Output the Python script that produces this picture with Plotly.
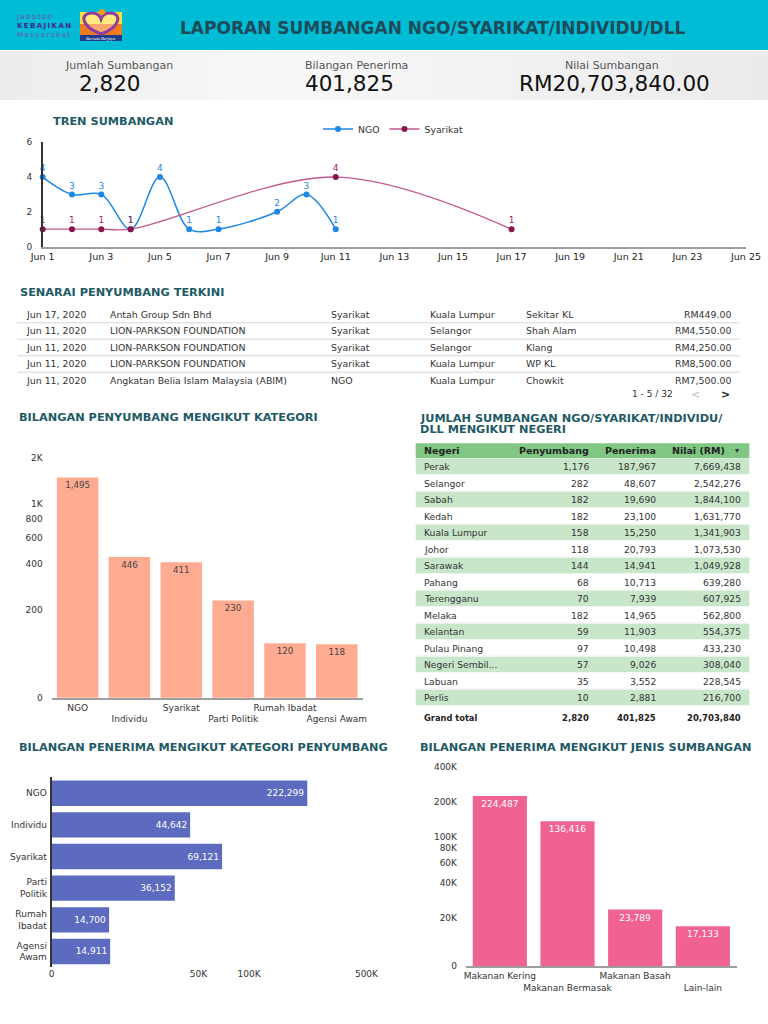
import math
import plotly.graph_objects as go

W, H = 768, 1024
def X(px): return px / W
def Y(py): return 1 - py / H

FONT = "DejaVu Sans"
TITLE_C = "#1e5a66"
TXT = "#333333"

# ---------------- data ----------------
report_title = "LAPORAN SUMBANGAN NGO/SYARIKAT/INDIVIDU/DLL"
score_labels = ["Jumlah Sumbangan", "Bilangan Penerima", "Nilai Sumbangan"]

trend_ngo_dates = ["2020-06-01", "2020-06-02", "2020-06-03", "2020-06-04", "2020-06-05",
                   "2020-06-06", "2020-06-07", "2020-06-09", "2020-06-10", "2020-06-11"]
trend_ngo_values = [4, 3, 3, 1, 4, 1, 1, 2, 3, 1]
trend_syarikat_dates = ["2020-06-01", "2020-06-02", "2020-06-03", "2020-06-04", "2020-06-11", "2020-06-17"]
trend_syarikat_values = [1, 1, 1, 1, 4, 1]

recent_dates = ["Jun 17, 2020", "Jun 11, 2020", "Jun 11, 2020", "Jun 11, 2020", "Jun 11, 2020"]
recent_names = ["Antah Group Sdn Bhd", "LION-PARKSON FOUNDATION", "LION-PARKSON FOUNDATION",
                "LION-PARKSON FOUNDATION", "Angkatan Belia Islam Malaysia (ABIM)"]
recent_categories = ["Syarikat", "Syarikat", "Syarikat", "Syarikat", "NGO"]
recent_states = ["Kuala Lumpur", "Selangor", "Selangor", "Kuala Lumpur", "Kuala Lumpur"]
recent_areas = ["Sekitar KL", "Shah Alam", "Klang", "WP KL", "Chowkit"]
recent_amounts = [449.00, 4550.00, 4250.00, 8500.00, 7500.00]
recent_page = "1 - 5 / 32"

categories = ["NGO", "Individu", "Syarikat", "Parti Politik", "Rumah Ibadat", "Agensi Awam"]
donors_by_category = [1495, 446, 411, 230, 120, 118]
recipients_by_category = [222299, 44642, 69121, 36152, 14700, 14911]

donation_types = ["Makanan Kering", "Makanan Bermasak", "Makanan Basah", "Lain-lain"]
recipients_by_type = [224487, 136416, 23789, 17133]

states = ["Perak", "Selangor", "Sabah", "Kedah", "Kuala Lumpur", "Johor", "Sarawak", "Pahang",
          "Terengganu", "Melaka", "Kelantan", "Pulau Pinang", "Negeri Sembil...", "Labuan", "Perlis"]
state_donors = [1176, 282, 182, 182, 158, 118, 144, 68, 70, 182, 59, 97, 57, 35, 10]
state_recipients = [187967, 48607, 19690, 23100, 15250, 20793, 14941, 10713, 7939, 14965,
                    11903, 10498, 9026, 3552, 2881]
state_value = [7669438, 2542276, 1844100, 1631770, 1341903, 1073530, 1049928, 639280, 607925,
               562800, 554375, 433230, 308040, 228545, 216700]
table_headers = ["Negeri", "Penyumbang", "Penerima", "Nilai (RM)"]

donor_ticks = [200, 400, 600, 800, 1000, 2000]
donor_tick_text = ["200", "400", "600", "800", "1K", "2K"]
recip_cat_ticks = [50000, 100000, 500000]
recip_cat_tick_text = ["50K", "100K", "500K"]
recip_type_ticks = [20000, 40000, 60000, 80000, 100000, 200000, 400000]
recip_type_tick_text = ["20K", "40K", "60K", "80K", "100K", "200K", "400K"]

logo_lines = ["Jabatan", "KEBAJIKAN", "Masyarakat"]

total_donors = sum(state_donors)
total_recipients = sum(state_recipients)
total_value = sum(state_value)

# ---------------- helpers ----------------
shapes, annots = [], []

def rect(x0, y0, x1, y1, fill, line=None, layer="below"):
    shapes.append(dict(type="rect", xref="paper", yref="paper", x0=X(x0), x1=X(x1), y0=Y(y1), y1=Y(y0),
                       fillcolor=fill, line=dict(width=0) if line is None else line, layer=layer))

def hline(x0, x1, y, color, width=1):
    shapes.append(dict(type="line", xref="paper", yref="paper", x0=X(x0), x1=X(x1), y0=Y(y), y1=Y(y),
                       line=dict(color=color, width=width)))

def txt(x, y, s, size=9, color=TXT, anchor="left", family=FONT, align=None):
    a = dict(x=X(x), y=Y(y), xref="paper", yref="paper", text=s, showarrow=False,
             xanchor=anchor, yanchor="middle", font=dict(family=family, size=size, color=color))
    if align:
        a["align"] = align
    annots.append(a)

def path(cmds):
    out = []
    for c in cmds:
        if isinstance(c, str):
            out.append(c)
        else:
            out.append(f"{X(c[0]):.5f},{Y(c[1]):.5f}")
    return " ".join(out)

def title(x, y, s):
    txt(x, y, f"<b>{s}</b>", size=11.3, color=TITLE_C)

def stagger(labels):
    return [l if i % 2 == 0 else "<br>" + l for i, l in enumerate(labels)]

def spaced(s):
    return "\u2009".join(s)

# ---------------- header ----------------
rect(0, 0, 768, 50, "#00bcd4")
# scorecard band: soft grey gradient made of thin strips
n_strips = 48
for k in range(n_strips):
    x0 = 768 * k / n_strips
    x1 = 768 * (k + 1) / n_strips + 0.6
    xc = (x0 + x1) / 2
    if xc < 260:
        g = 236 + (248 - 236) * xc / 260
    else:
        g = 248 - (248 - 235) * (xc - 260) / (768 - 260)
    g = int(round(g))
    rect(x0, 51, x1, 100, f"rgb({g},{g},{g})")
# logo
txt(14, 25.5, "<span style='color:#7d4fb0'>" + spaced(logo_lines[0]) + "</span><br>"
    "<b><span style='color:#4b2490'>" + spaced(logo_lines[1]) + "</span></b><br>"
    "<span style='color:#7d4fb0'>" + spaced(logo_lines[2]) + "</span>",
    size=7, color="#7d4fb0", align="left")
rect(80, 12, 122, 24, "#f9e03a", layer="above")
rect(80, 24, 122, 35, "#f07a22", layer="above")
rect(80, 35, 122, 41, "#1f3c8c", layer="above")
shapes.append(dict(type="path", xref="paper", yref="paper", layer="above",
                   path=path(["M", (101, 34), "C", (80, 26), (80, 13), (92, 13), "C", (97, 13), (100, 16), (101, 19),
                              "C", (102, 16), (105, 13), (110, 13), "C", (122, 13), (121, 27), (101, 34), "Z"]),
                   fillcolor="rgba(255,255,255,0.35)", line=dict(color="#8e3d9e", width=3)))
shapes.append(dict(type="circle", xref="paper", yref="paper", layer="above",
                   x0=X(99), x1=X(105), y0=Y(15), y1=Y(9), fillcolor="#f39c12", line=dict(width=0)))
txt(101, 38, "<i>Bersatu Berjaya</i>", size=4.5, color="white", anchor="center", family="Liberation Serif")

txt(433, 28, f"<b>{report_title}</b>", size=17, color="#1d4b5a", anchor="center")

# scorecards
txt(118.9, 65, score_labels[0], size=11, color="#555555", anchor="center")
txt(109.5, 83, f"{total_donors:,}", size=21.5, color="#111111", anchor="center")
txt(302.5, 65, score_labels[1], size=11, color="#555555", anchor="left")
txt(302.5, 83, f"{total_recipients:,}", size=21.5, color="#111111", anchor="left")
txt(612.3, 65, score_labels[2], size=11, color="#555555", anchor="center")
txt(614.7, 83, f"RM{total_value:,.2f}", size=21.5, color="#111111", anchor="center")

# ---------------- trend line chart ----------------
title(50.7, 121.7, "TREN SUMBANGAN")
NGO_C = "#1e88e5"
SYA_LINE = "#c2588c"
SYA_MARK = "#8b1450"
fig = go.Figure()
fig.add_trace(go.Scatter(x=trend_ngo_dates, y=trend_ngo_values, mode="lines+markers", name="NGO",
                         line=dict(color=NGO_C, width=1.5, shape="spline", smoothing=1.0),
                         marker=dict(size=6, color=NGO_C), xaxis="x", yaxis="y", cliponaxis=False))
fig.add_trace(go.Scatter(x=trend_syarikat_dates, y=trend_syarikat_values, mode="lines+markers", name="Syarikat",
                         line=dict(color=SYA_LINE, width=1.3, shape="spline", smoothing=1.0),
                         marker=dict(size=6, color=SYA_MARK), xaxis="x", yaxis="y", cliponaxis=False))
fig.add_trace(go.Scatter(x=trend_ngo_dates, y=trend_ngo_values, mode="markers+text",
                         text=[str(v) for v in trend_ngo_values], textposition="top center",
                         textfont=dict(size=9, color=NGO_C), marker=dict(size=4, color="rgba(0,0,0,0)"),
                         showlegend=False, xaxis="x", yaxis="y", cliponaxis=False, hoverinfo="skip"))
fig.add_trace(go.Scatter(x=trend_syarikat_dates, y=trend_syarikat_values, mode="markers+text",
                         text=[str(v) for v in trend_syarikat_values], textposition="top center",
                         textfont=dict(size=9, color="#9b1f5c"), marker=dict(size=4, color="rgba(0,0,0,0)"),
                         showlegend=False, xaxis="x", yaxis="y", cliponaxis=False, hoverinfo="skip"))

# ---------------- recent donors table ----------------
title(18, 292.3, "SENARAI PENYUMBANG TERKINI")
TS = 9.4
for i in range(len(recent_dates)):
    yy = 314.3 + 16.5 * i
    txt(23.5, yy, recent_dates[i], size=TS)
    txt(107.8, yy, recent_names[i], size=TS)
    txt(329.4, yy, recent_categories[i], size=TS)
    txt(427.5, yy, recent_states[i], size=TS)
    txt(523.5, yy, recent_areas[i], size=TS)
    txt(732.8, yy, f"RM{recent_amounts[i]:,.2f}", size=TS, anchor="right")
    if i < len(recent_dates) - 1:
        hline(17, 740, yy + 8.5, "#e3e3e3", 1.5)
txt(652, 394, recent_page, size=9, anchor="center")
txt(695, 394, "<", size=11, color="#bbbbbb", anchor="center")
txt(725.5, 394, "<b>></b>", size=11, color="#222222", anchor="center")

# ---------------- bar: donors by category ----------------
title(17.3, 417.7, "BILANGAN PENYUMBANG MENGIKUT KATEGORI")
fig.add_trace(go.Bar(x=categories, y=donors_by_category, marker=dict(color="#ffab91", line=dict(width=0)),
                     text=[f"{v:,}" for v in donors_by_category], textposition="inside",
                     insidetextanchor="end", textangle=0, textfont=dict(size=8.7, color="#444444"),
                     xaxis="x2", yaxis="y2", showlegend=False))

# ---------------- state table ----------------
title(418.3, 418.3, "JUMLAH SUMBANGAN NGO/SYARIKAT/INDIVIDU/")
title(418.3, 429, "DLL MENGIKUT NEGERI")
rect(415.7, 443.3, 749.3, 458.3, "#81c784")
hdr_y = 450.8
txt(422, hdr_y, f"<b>{table_headers[0]}</b>", size=9.5, color="#222222")
txt(591, hdr_y, f"<b>{table_headers[1]}</b>", size=9.5, color="#222222", anchor="right")
txt(657.7, hdr_y, f"<b>{table_headers[2]}</b>", size=9.5, color="#222222", anchor="right")
txt(726.7, hdr_y, f"<b>{table_headers[3]}</b>", size=9.5, color="#222222", anchor="right")
txt(737, hdr_y, "▾", size=8, color="#333333", anchor="center")
RS = 9.2
for i in range(len(states)):
    top = 458.3 + 16.5 * i
    if i % 2 == 0:
        rect(415.7, top + 0.5, 749.3, top + 16.0, "#c8e6c9")
    else:
        hline(415.7, 749.3, top + 16.2, "#eeeeee", 1)
    yy = top + 8.25
    txt(422, yy, states[i], size=RS)
    txt(591, yy, f"{state_donors[i]:,}", size=RS, anchor="right")
    txt(657.7, yy, f"{state_recipients[i]:,}", size=RS, anchor="right")
    txt(743.3, yy, f"{state_value[i]:,}", size=RS, anchor="right")
gt_y = 717.7
txt(422, gt_y, "<b>Grand total</b>", size=8.3, color="#222222")
txt(591, gt_y, f"<b>{total_donors:,}</b>", size=8.5, color="#222222", anchor="right")
txt(657.7, gt_y, f"<b>{total_recipients:,}</b>", size=8.5, color="#222222", anchor="right")
txt(743.3, gt_y, f"<b>{total_value:,}</b>", size=8.5, color="#222222", anchor="right")

# ---------------- hbar: recipients by category ----------------
title(17.3, 747, "BILANGAN PENERIMA MENGIKUT KATEGORI PENYUMBANG")
fig.add_trace(go.Bar(y=categories, x=recipients_by_category, orientation="h",
                     marker=dict(color="#5c6bc0", line=dict(width=0)),
                     text=[f"{v:,}" for v in recipients_by_category], textposition="inside",
                     insidetextanchor="end", textangle=0, textfont=dict(size=9, color="white"),
                     xaxis="x3", yaxis="y3", showlegend=False))

# ---------------- bar: recipients by donation type ----------------
title(418.3, 747, "BILANGAN PENERIMA MENGIKUT JENIS SUMBANGAN")
fig.add_trace(go.Bar(x=donation_types, y=recipients_by_type, marker=dict(color="#f06292", line=dict(width=0)),
                     text=[f"{v:,}" for v in recipients_by_type], textposition="inside",
                     insidetextanchor="end", textangle=0, textfont=dict(size=9, color="white"),
                     xaxis="x4", yaxis="y4", showlegend=False))

# ---------------- axes ----------------
tickfont = dict(family=FONT, size=9, color="#333333")
d_lo, d_hi = math.log10(52.4), math.log10(2270)
c_lo, c_hi = math.log10(6694), math.log10(602000)
t_lo, t_hi = math.log10(7791), math.log10(457000)

fig.update_layout(
    width=W, height=H, margin=dict(l=0, r=0, t=0, b=0, pad=0, autoexpand=False),
    paper_bgcolor="white", plot_bgcolor="rgba(0,0,0,0)",
    font=dict(family=FONT, size=9, color=TXT),
    bargap=0.2,
    showlegend=True,
    legend=dict(orientation="h", x=X(318), y=Y(129), xanchor="left", yanchor="middle",
                font=dict(family=FONT, size=9.3, color="#333333"), itemwidth=30,
                bgcolor="rgba(0,0,0,0)"),
    xaxis=dict(domain=[X(42.7), X(746)], type="date", range=["2020-06-01", "2020-06-25"],
               tick0="2020-06-01", dtick=2 * 86400000, tickformat="%b %-d",
               showline=True, linecolor="#9e9e9e", linewidth=2, showgrid=False, zeroline=False,
               tickfont=dict(family=FONT, size=9.5, color="#222222"), anchor="y", automargin=False),
    yaxis=dict(domain=[Y(246.5), Y(142.3)], range=[0, 6], dtick=2, showline=True, linecolor="#333333",
               linewidth=1.5, showgrid=False, zeroline=False, tickfont=tickfont, anchor="x",
               ticklabelstandoff=7, automargin=False),
    xaxis2=dict(domain=[X(51.7), X(362.7)], type="category", showline=True, linecolor="#9e9e9e",
                linewidth=2, tickangle=0, tickvals=categories, ticktext=stagger(categories),
                tickfont=tickfont, anchor="y2", showgrid=False, automargin=False),
    yaxis2=dict(domain=[Y(697.7), Y(450)], type="log", range=[d_lo, d_hi],
                tickvals=[10 ** d_lo] + donor_ticks, ticktext=["0"] + donor_tick_text,
                showgrid=False, zeroline=False, showline=False, tickfont=tickfont, anchor="x2",
                ticklabelstandoff=8, automargin=False),
    xaxis3=dict(domain=[X(51.7), X(380)], type="log", range=[c_lo, c_hi],
                tickvals=[10 ** c_lo] + recip_cat_ticks, ticktext=["0"] + recip_cat_tick_text,
                showgrid=False, zeroline=False, showline=False, tickfont=tickfont, anchor="y3",
                automargin=False),
    yaxis3=dict(domain=[Y(967.3), Y(777.4)], type="category", autorange="reversed",
                tickvals=categories, ticktext=[c.replace(" ", "<br>") for c in categories],
                showline=True, linecolor="#333333", linewidth=2, showgrid=False,
                tickfont=tickfont, anchor="x3", ticklabelstandoff=1, automargin=False),
    xaxis4=dict(domain=[X(466), X(736.7)], type="category", showline=True, linecolor="#9e9e9e",
                linewidth=2, tickangle=0, tickvals=donation_types, ticktext=stagger(donation_types),
                tickfont=tickfont, anchor="y4", showgrid=False, automargin=False),
    yaxis4=dict(domain=[Y(966), Y(760)], type="log", range=[t_lo, t_hi],
                tickvals=[10 ** t_lo] + recip_type_ticks, ticktext=["0"] + recip_type_tick_text,
                showgrid=False, zeroline=False, showline=False, tickfont=tickfont, anchor="x4",
                ticklabelstandoff=8, automargin=False),
    shapes=shapes,
    annotations=annots,
)

fig.write_html("out.html", config={"displayModeBar": False},
               post_script="document.body.style.margin='0px';")
